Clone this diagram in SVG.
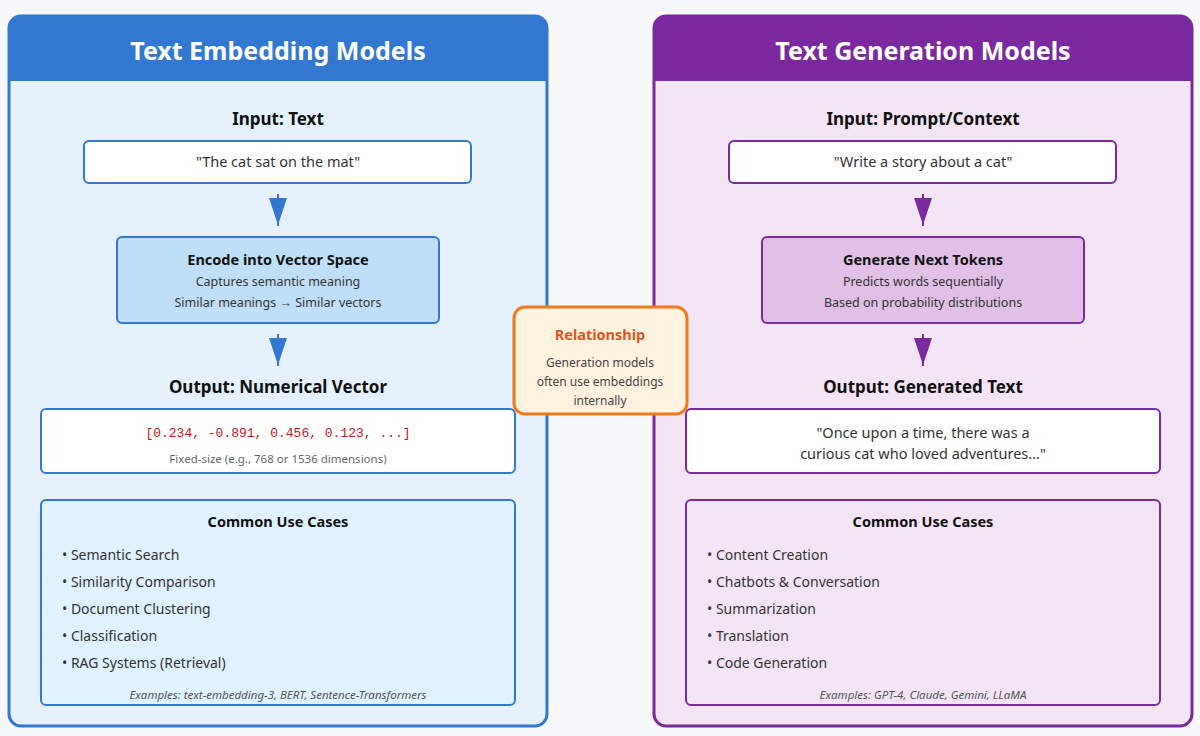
<svg xmlns="http://www.w3.org/2000/svg" width="1200" height="736" viewBox="0 0 1200 736">
<style>
text{font-family:"Noto Sans","Open Sans",sans-serif;text-anchor:middle}
.t{font-size:25px;font-weight:bold;fill:#fff}
.h{font-size:17px;font-weight:bold;fill:#111}
.b{font-size:14.5px;fill:#333}
.s{font-size:12.5px;fill:#333}
.hb{font-size:14.5px;font-weight:bold;fill:#111}
.li{font-size:14px;fill:#333;text-anchor:start}
.ex{font-size:11.5px;font-style:italic;fill:#555}
.bl{stroke:#3378d0;stroke-width:2}
.pu{stroke:#7a2a9e;stroke-width:2}
</style>
<rect width="1200" height="736" fill="#f7f8fa"/>
<g id="left">
<rect x="9" y="16" width="538" height="710" rx="12" fill="#e5f1fc" stroke="#3378d0" stroke-width="3"/>
<path d="M9 81 V28 a12 12 0 0 1 12 -12 H535 a12 12 0 0 1 12 12 V81 Z" fill="#3378d0"/>
<text x="278" y="60" class="t">Text Embedding Models</text>
<text x="278" y="125" class="h">Input: Text</text>
<rect x="84" y="141" width="387" height="42" rx="5" fill="#fff" class="bl"/>
<text x="278" y="167" class="b">"The cat sat on the mat"</text>
<rect x="117" y="237" width="322" height="86" rx="5" fill="#bfdff8" class="bl"/>
<text x="278" y="265" class="hb">Encode into Vector Space</text>
<text x="278" y="286" class="s">Captures semantic meaning</text>
<text x="278" y="307" class="s">Similar meanings → Similar vectors</text>
<text x="278" y="393" class="h">Output: Numerical Vector</text>
<rect x="41" y="409" width="474" height="64" rx="5" fill="#fff" class="bl"/>
<text x="278" y="437" style="font-family:'Liberation Mono',monospace;font-size:13px;fill:#c0161a">[0.234, -0.891, 0.456, 0.123, ...]</text>
<text x="278" y="463" style="font-size:11.5px;fill:#666">Fixed-size (e.g., 768 or 1536 dimensions)</text>
<rect x="41" y="500" width="474" height="205" rx="5" fill="#e0f2fd" class="bl"/>
<text x="278" y="527" class="hb">Common Use Cases</text>
<text x="62" y="560" class="li">• Semantic Search</text>
<text x="62" y="587" class="li">• Similarity Comparison</text>
<text x="62" y="614" class="li">• Document Clustering</text>
<text x="62" y="641" class="li">• Classification</text>
<text x="62" y="668" class="li">• RAG Systems (Retrieval)</text>
<text x="278" y="699" class="ex">Examples: text-embedding-3, BERT, Sentence-Transformers</text>
</g>
<g id="right">
<rect x="654" y="16" width="538" height="710" rx="12" fill="#f3e5f5" stroke="#7a2a9e" stroke-width="3"/>
<path d="M654 81 V28 a12 12 0 0 1 12 -12 H1180 a12 12 0 0 1 12 12 V81 Z" fill="#7a2a9e"/>
<text x="923" y="60" class="t">Text Generation Models</text>
<text x="923" y="125" class="h">Input: Prompt/Context</text>
<rect x="729" y="141" width="387" height="42" rx="5" fill="#fff" class="pu"/>
<text x="923" y="167" class="b">"Write a story about a cat"</text>
<rect x="762" y="237" width="322" height="86" rx="5" fill="#e1bfe7" class="pu"/>
<text x="923" y="265" class="hb">Generate Next Tokens</text>
<text x="923" y="286" class="s">Predicts words sequentially</text>
<text x="923" y="307" class="s">Based on probability distributions</text>
<text x="923" y="393" class="h">Output: Generated Text</text>
<rect x="686" y="409" width="474" height="64" rx="5" fill="#fff" class="pu"/>
<text x="923" y="438" class="b">"Once upon a time, there was a</text>
<text x="923" y="459" class="b">curious cat who loved adventures..."</text>
<rect x="686" y="500" width="474" height="205" rx="5" fill="#f3e5f5" class="pu"/>
<text x="923" y="527" class="hb">Common Use Cases</text>
<text x="707" y="560" class="li">• Content Creation</text>
<text x="707" y="587" class="li">• Chatbots &amp; Conversation</text>
<text x="707" y="614" class="li">• Summarization</text>
<text x="707" y="641" class="li">• Translation</text>
<text x="707" y="668" class="li">• Code Generation</text>
<text x="923" y="699" class="ex">Examples: GPT-4, Claude, Gemini, LLaMA</text>
</g>
<g id="relationship">
<rect x="514" y="307" width="173" height="107" rx="11" fill="#fff3e0" stroke="#f07a1a" stroke-width="3"/>
<text x="600" y="340" style="font-size:14.5px;font-weight:bold;fill:#e0541a">Relationship</text>
<text x="600" y="367" style="font-size:12px;fill:#444">Generation models</text>
<text x="600" y="386" style="font-size:12px;fill:#444">often use embeddings</text>
<text x="600" y="405" style="font-size:12px;fill:#444">internally</text>
</g>
<g id="connectors">
<line x1="278" y1="194" x2="278" y2="226" stroke="#3378d0" stroke-width="2"/>
<polygon points="269,198 287,198 278,225" fill="#3378d0"/>
<line x1="278" y1="334" x2="278" y2="366" stroke="#3378d0" stroke-width="2"/>
<polygon points="269,338 287,338 278,365" fill="#3378d0"/>
<line x1="923" y1="194" x2="923" y2="226" stroke="#7a2a9e" stroke-width="2"/>
<polygon points="914,198 932,198 923,225" fill="#7a2a9e"/>
<line x1="923" y1="334" x2="923" y2="366" stroke="#7a2a9e" stroke-width="2"/>
<polygon points="914,338 932,338 923,365" fill="#7a2a9e"/>
</g>
</svg>
